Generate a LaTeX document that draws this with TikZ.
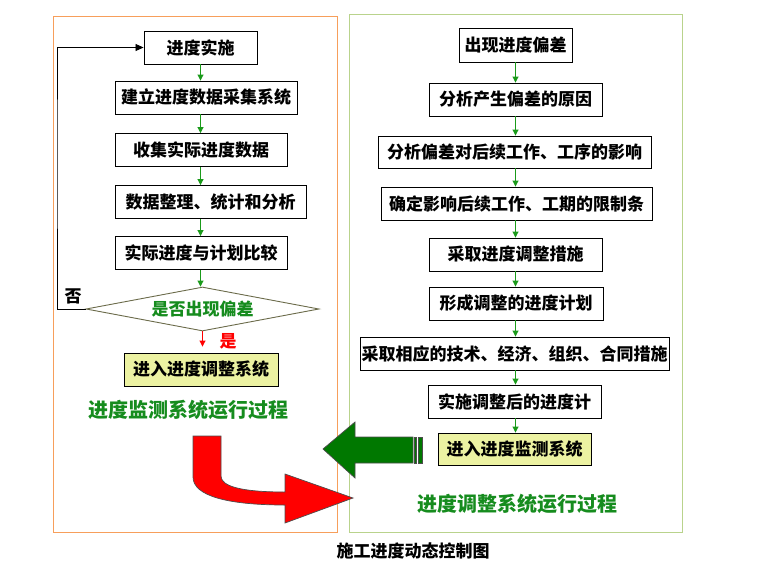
\documentclass[tikz,border=0pt]{standalone}
\usepackage{fontspec}
\setmainfont{Noto Sans CJK SC}
\usetikzlibrary{positioning,shapes.geometric,arrows.meta}
\definecolor{panelorange}{HTML}{F79F5B}
\definecolor{panelgreen}{HTML}{B9D38C}
\definecolor{flowgreen}{HTML}{1A9A1A}
\definecolor{titlegreen}{HTML}{168C1E}
\definecolor{sysyellow}{HTML}{ECF2A2}
\definecolor{bigarrowgreen}{HTML}{007800}
\definecolor{decisionline}{HTML}{6B6B4A}

\begin{document}
\begin{tikzpicture}[x=1pt,y=-1pt, every node/.style={font=\fontsize{17}{19}\selectfont\bfseries}]
    \tikzset{procbox/.style={draw=black,line width=0.9pt,fill=white,align=center,minimum height=33pt,inner sep=0pt},
      sysbox/.style={procbox,fill=sysyellow},
      garrow/.style={-{Triangle[length=6pt,width=6pt]},draw=flowgreen,fill=flowgreen,line width=0.9pt},
      phasetitle/.style={text=titlegreen,font=\fontsize{20}{22}\selectfont\bfseries}}
    \useasboundingbox (0,0) rectangle (760,568);
    \draw[panelorange,line width=1pt] (53,16) rectangle (337,532);
    \draw[panelgreen,line width=1pt] (349,14) rectangle (682,532);
    \node[procbox,minimum width=113pt] (l1) at (200.5,47.5) {进度实施};
    \node[procbox,minimum width=182pt] (l2) at (206,97.5) {建立进度数据采集系统};
    \node[procbox,minimum width=172pt] (l3) at (201,150) {收集实际进度数据};
    \node[procbox,minimum width=191pt] (l4) at (210.5,202) {数据整理、统计和分析};
    \node[procbox,minimum width=172pt] (l5) at (201,253) {实际进度与计划比较};
    \node[diamond,draw=decisionline,line width=0.9pt,fill=white,aspect=5.3,inner sep=0pt,minimum width=233pt,minimum height=44pt,text=titlegreen] (dec) at (202.5,309) {是否出现偏差};
    \node[sysbox,minimum width=154pt] (ladj) at (201,369.5) {进入进度调整系统};
    \node (no) at (73,296) {否};
    \node[text=red] (yes) at (228,341) {是};
    \node[phasetitle] (lt) at (188,410) {进度监测系统运行过程};
    \foreach \a/\b in {l1/l2,l2/l3,l3/l4,l4/l5,l5/dec}
      \draw[garrow] (\a.south -| l1) -- (\b.north -| l1);
    \draw[-{Triangle[length=8pt,width=7pt]},line width=0.8pt] (dec.west) -| (57,150) |- (l1.west);
    \draw[-{Triangle[length=6pt,width=6pt]},red,line width=0.9pt,shorten >=6pt] (dec.south) -- (dec.south |- ladj.north);

    \node[procbox,minimum width=113pt,minimum height=34pt] (r1) at (515.5,45) {出现进度偏差};
    \node[procbox,minimum width=173pt] (r2) at (515.5,99.5) {分析产生偏差的原因};
    \node[procbox,minimum width=273pt,minimum height=32pt] (r3) at (514.5,152) {分析偏差对后续工作、工序的影响};
    \node[procbox,minimum width=271pt] (r4) at (516.5,203.5) {确定影响后续工作、工期的限制条};
    \node[procbox,minimum width=173pt] (r5) at (515.5,254.5) {采取进度调整措施};
    \node[procbox,minimum width=174pt] (r6) at (516,303.5) {形成调整的进度计划};
    \node[procbox,minimum width=309pt] (r7) at (514.5,353.5) {采取相应的技术、经济、组织、合同措施};
    \node[procbox,minimum width=173pt] (r8) at (514.5,401.5) {实施调整后的进度计};
    \node[sysbox,minimum width=153pt,minimum height=32pt] (rmon) at (514.5,449) {进入进度监测系统};
    \node[phasetitle] (rt) at (517,504) {进度调整系统运行过程};
    \foreach \a/\b in {r1/r2,r2/r3,r3/r4,r4/r5,r5/r6,r6/r7,r7/r8,r8/rmon}
      \draw[garrow] (\a.south -| r1) -- (\b.north -| r1);

    \draw[fill=red,draw=black!70,line width=0.7pt] (193,436) -- (221,436) -- (221,476)
      .. controls (221,486) and (240,492) .. (285,492) -- (285,474) -- (353,498) -- (285,523) -- (285,505)
      .. controls (228,505) and (193,496) .. (193,477) -- cycle;
    \draw[fill=bigarrowgreen,draw=black!70,line width=0.7pt] (323,449) -- (355,422) -- (355,437) -- (413,437)
      -- (413,463) -- (355,463) -- (355,478) -- cycle;
    \draw[fill=bigarrowgreen,draw=black!70,line width=0.5pt] (414.5,437) rectangle (416.5,463);
    \draw[fill=bigarrowgreen,draw=black!70,line width=0.5pt] (418,437) rectangle (422,463);

    \node[font=\fontsize{17}{19}\selectfont\bfseries] (cap) at (413,551) {施工进度动态控制图};
  \end{tikzpicture}
\end{document}
